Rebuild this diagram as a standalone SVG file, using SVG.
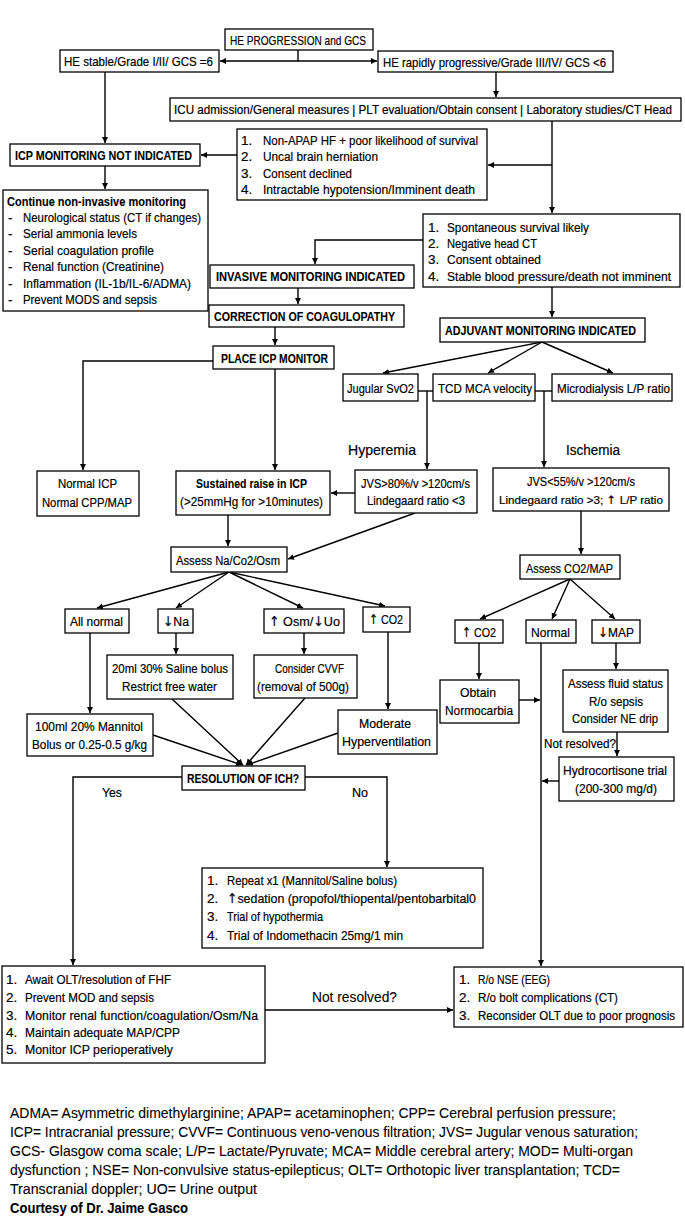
<svg xmlns="http://www.w3.org/2000/svg" width="685" height="1219" viewBox="0 0 685 1219">
<style>
text{font-family:"Liberation Sans","DejaVu Sans",sans-serif;font-size:13.5px;fill:#000;stroke:#000;stroke-width:0.2}
.b{font-weight:bold;font-size:12.5px;stroke-width:0.1}
.f{font-size:14px;stroke-width:0.1}
.h{font-size:15px}
.s{font-size:12px}
.t{font-size:12.5px}
.u{font-size:12px}
.v{font-size:11.5px}
.ar{font-family:"DejaVu Sans",sans-serif;fill:#000}
rect{fill:#fff;stroke:#000;stroke-width:1.3}
#connectors path{fill:none;stroke:#000;stroke-width:1.4}
</style>
<defs>
<marker id="ah" markerUnits="userSpaceOnUse" markerWidth="7" markerHeight="7" refX="6" refY="3" orient="auto">
<path d="M0,0 L6,3 L0,6 z" fill="#000"/>
</marker>
</defs>
<rect x="0" y="0" width="685" height="1219" style="fill:#fff;stroke:none"/>

<g id="connectors">
<path d="M298,50 V61 H220" marker-end="url(#ah)"/>
<path d="M298,61 H377" marker-end="url(#ah)"/>
<path d="M496,72 V97" marker-end="url(#ah)"/>
<path d="M105,72 V143" marker-end="url(#ah)"/>
<path d="M552,121 V213" marker-end="url(#ah)"/>
<path d="M552,165 H488" marker-end="url(#ah)"/>
<path d="M237,155 H201" marker-end="url(#ah)"/>
<path d="M105,166 V189" marker-end="url(#ah)"/>
<path d="M423,240 H315 V264" marker-end="url(#ah)"/>
<path d="M298,288 V304" marker-end="url(#ah)"/>
<path d="M275,327 V345" marker-end="url(#ah)"/>
<path d="M552,287 V317" marker-end="url(#ah)"/>
<path d="M542,342 L383,373" marker-end="url(#ah)"/>
<path d="M542,342 L488,373" marker-end="url(#ah)"/>
<path d="M542,342 L613,373" marker-end="url(#ah)"/>
<path d="M418,391 H433"/>
<path d="M427,391 V469" marker-end="url(#ah)"/>
<path d="M535,391 H552"/>
<path d="M544,391 V467" marker-end="url(#ah)"/>
<path d="M213,361 H83 V470" marker-end="url(#ah)"/>
<path d="M275,369 V470" marker-end="url(#ah)"/>
<path d="M355,493 H331" marker-end="url(#ah)"/>
<path d="M415,513 L288,559" marker-end="url(#ah)"/>
<path d="M228,515 V546" marker-end="url(#ah)"/>
<path d="M581,511 V554" marker-end="url(#ah)"/>
<path d="M229,572 L97,608" marker-end="url(#ah)"/>
<path d="M229,572 L176,608" marker-end="url(#ah)"/>
<path d="M229,572 L303,608" marker-end="url(#ah)"/>
<path d="M229,572 L385,606" marker-end="url(#ah)"/>
<path d="M570,579 L480,619" marker-end="url(#ah)"/>
<path d="M570,579 L552,619" marker-end="url(#ah)"/>
<path d="M570,579 L615,619" marker-end="url(#ah)"/>
<path d="M90,633 V713" marker-end="url(#ah)"/>
<path d="M176,633 V654" marker-end="url(#ah)"/>
<path d="M304,633 V654" marker-end="url(#ah)"/>
<path d="M388,632 V709" marker-end="url(#ah)"/>
<path d="M153,735 L242,765" marker-end="url(#ah)"/>
<path d="M172,699 L243,765" marker-end="url(#ah)"/>
<path d="M305,698 L246,765" marker-end="url(#ah)"/>
<path d="M338,733 L247,765" marker-end="url(#ah)"/>
<path d="M182,777 H73 V965" marker-end="url(#ah)"/>
<path d="M305,777 H387 V867" marker-end="url(#ah)"/>
<path d="M479,643 V679" marker-end="url(#ah)"/>
<path d="M519,700 H540" marker-end="url(#ah)"/>
<path d="M541,643 V966" marker-end="url(#ah)"/>
<path d="M616,643 V669" marker-end="url(#ah)"/>
<path d="M617,732 V756" marker-end="url(#ah)"/>
<path d="M559,781 H542" marker-end="url(#ah)"/>
<path d="M265,1010 H453" marker-end="url(#ah)"/>
</g>

<g id="n_prog"><rect x="225" y="29" width="148" height="21"/><text x="230" y="44.5" textLength="136" lengthAdjust="spacingAndGlyphs">HE PROGRESSION and GCS</text></g>
<g id="n_stable"><rect x="60" y="50" width="159" height="22"/><text x="64" y="65.5" textLength="149" lengthAdjust="spacingAndGlyphs">HE stable/Grade I/II/ GCS =6</text></g>
<g id="n_rapid"><rect x="378" y="51" width="235" height="21"/><text x="383" y="66.5" textLength="223" lengthAdjust="spacingAndGlyphs">HE rapidly progressive/Grade III/IV/ GCS &lt;6</text></g>
<g id="n_icu"><rect x="170" y="98" width="511" height="23"/><text class="u" x="174" y="114" textLength="498" lengthAdjust="spacingAndGlyphs">ICU admission/General measures | PLT evaluation/Obtain consent | Laboratory studies/CT Head</text></g>
<g id="n_list1"><rect x="237" y="129" width="250" height="71"/>
<text x="241" y="144.5">1.</text><text x="263" y="144.5" textLength="215" lengthAdjust="spacingAndGlyphs">Non-APAP HF + poor likelihood of survival</text>
<text x="241" y="161">2.</text><text x="263" y="161" textLength="115" lengthAdjust="spacingAndGlyphs">Uncal brain herniation</text>
<text x="241" y="177.5">3.</text><text x="263" y="177.5" textLength="89" lengthAdjust="spacingAndGlyphs">Consent declined</text>
<text x="241" y="194">4.</text><text x="263" y="194" textLength="212" lengthAdjust="spacingAndGlyphs">Intractable hypotension/Imminent death</text></g>
<g id="n_icpno"><rect x="10" y="144" width="190" height="22"/><text class="b" x="15" y="159.5" textLength="177" lengthAdjust="spacingAndGlyphs">ICP MONITORING NOT INDICATED</text></g>
<g id="n_cont"><rect x="3" y="190" width="205" height="121"/>
<text class="b" x="7" y="205.5" textLength="179" lengthAdjust="spacingAndGlyphs">Continue non-invasive monitoring</text>
<text x="8" y="221.5">-</text><text x="23" y="221.5" textLength="178" lengthAdjust="spacingAndGlyphs">Neurological status (CT if changes)</text>
<text x="8" y="237.5">-</text><text x="23" y="237.5" textLength="114" lengthAdjust="spacingAndGlyphs">Serial ammonia levels</text>
<text x="8" y="254.5">-</text><text x="23" y="254.5" textLength="131" lengthAdjust="spacingAndGlyphs">Serial coagulation profile</text>
<text x="8" y="271">-</text><text x="23" y="271" textLength="141" lengthAdjust="spacingAndGlyphs">Renal function (Creatinine)</text>
<text x="8" y="287.5">-</text><text x="23" y="287.5" textLength="168" lengthAdjust="spacingAndGlyphs">Inflammation (IL-1b/IL-6/ADMA)</text>
<text x="8" y="303.5">-</text><text x="23" y="303.5" textLength="134" lengthAdjust="spacingAndGlyphs">Prevent MODS and sepsis</text></g>
<g id="n_list2"><rect x="423" y="214" width="257" height="73"/>
<text x="428" y="231.5">1.</text><text x="447" y="231.5" textLength="142" lengthAdjust="spacingAndGlyphs">Spontaneous survival likely</text>
<text x="428" y="247.5">2.</text><text x="447" y="247.5" textLength="90" lengthAdjust="spacingAndGlyphs">Negative head CT</text>
<text x="428" y="264">3.</text><text x="447" y="264" textLength="94" lengthAdjust="spacingAndGlyphs">Consent obtained</text>
<text x="428" y="280.5">4.</text><text class="t" x="447" y="280.5" textLength="224" lengthAdjust="spacingAndGlyphs">Stable blood pressure/death not imminent</text></g>
<g id="n_inv"><rect x="210" y="265" width="204" height="23"/><text class="b" x="216" y="281" textLength="189" lengthAdjust="spacingAndGlyphs">INVASIVE MONITORING INDICATED</text></g>
<g id="n_corr"><rect x="209" y="305" width="195" height="22"/><text class="b" x="214" y="321" textLength="181" lengthAdjust="spacingAndGlyphs">CORRECTION  OF COAGULOPATHY</text></g>
<g id="n_place"><rect x="213" y="346" width="121" height="23"/><text class="b" x="221" y="362.5" textLength="107" lengthAdjust="spacingAndGlyphs">PLACE ICP MONITOR</text></g>
<g id="n_adj"><rect x="440" y="318" width="205" height="24"/><text class="b" x="445" y="335" textLength="191" lengthAdjust="spacingAndGlyphs">ADJUVANT MONITORING INDICATED</text></g>
<g id="n_jug"><rect x="343" y="374" width="75" height="27"/><text x="347" y="392.5" textLength="67" lengthAdjust="spacingAndGlyphs">Jugular SvO2</text></g>
<g id="n_tcd"><rect x="433" y="374" width="102" height="27"/><text x="438" y="392.5" textLength="94" lengthAdjust="spacingAndGlyphs">TCD MCA velocity</text></g>
<g id="n_micro"><rect x="552" y="374" width="120" height="27"/><text class="t" x="557" y="392.5" textLength="113" lengthAdjust="spacingAndGlyphs">Microdialysis L/P ratio</text></g>
<g id="l_hyper"><text class="h" x="348" y="455" textLength="68" lengthAdjust="spacingAndGlyphs">Hyperemia</text></g>
<g id="l_isch"><text class="h" x="566" y="455" textLength="54" lengthAdjust="spacingAndGlyphs">Ischemia</text></g>
<g id="n_jvs80"><rect x="355" y="470" width="122" height="43"/>
<text x="361" y="487.5" textLength="109" lengthAdjust="spacingAndGlyphs">JVS&gt;80%/v &gt;120cm/s</text>
<text x="367" y="504.5" textLength="98" lengthAdjust="spacingAndGlyphs">Lindegaard ratio &lt;3</text></g>
<g id="n_jvs55"><rect x="493" y="468" width="176" height="43"/>
<text x="527" y="485.5" textLength="108" lengthAdjust="spacingAndGlyphs">JVS&lt;55%/v &gt;120cm/s</text>
<text class="v" x="499" y="503.5" textLength="164" lengthAdjust="spacingAndGlyphs">Lindegaard ratio &gt;3;  <tspan class="ar">↑</tspan> L/P ratio</text></g>
<g id="n_normicp"><rect x="37" y="471" width="102" height="45"/>
<text x="58" y="487.5" textLength="59" lengthAdjust="spacingAndGlyphs">Normal ICP</text>
<text x="42" y="506.5" textLength="90" lengthAdjust="spacingAndGlyphs">Normal CPP/MAP</text></g>
<g id="n_sust"><rect x="176" y="471" width="154" height="44"/>
<text class="b" x="196" y="487.5" textLength="111" lengthAdjust="spacingAndGlyphs">Sustained raise in ICP</text>
<text x="180" y="506" textLength="143" lengthAdjust="spacingAndGlyphs">(&gt;25mmHg  for &gt;10minutes)</text></g>
<g id="n_assessna"><rect x="171" y="547" width="116" height="25"/><text x="176" y="564.5" textLength="104" lengthAdjust="spacingAndGlyphs">Assess Na/Co2/Osm</text></g>
<g id="n_assessco2"><rect x="520" y="555" width="100" height="24"/><text x="526" y="572.5" textLength="87" lengthAdjust="spacingAndGlyphs">Assess CO2/MAP</text></g>
<g id="n_allnorm"><rect x="65" y="609" width="64" height="24"/><text x="70" y="626" textLength="53" lengthAdjust="spacingAndGlyphs">All normal</text></g>
<g id="n_na"><rect x="158" y="609" width="35" height="24"/><text x="163" y="626" textLength="26" lengthAdjust="spacingAndGlyphs"><tspan class="ar">↓</tspan>Na</text></g>
<g id="n_osm"><rect x="264" y="609" width="80" height="24"/><text x="269" y="626" textLength="71" lengthAdjust="spacingAndGlyphs"><tspan class="ar">↑</tspan> Osm/<tspan class="ar">↓</tspan>Uo</text></g>
<g id="n_co2a"><rect x="363" y="607" width="47" height="25"/><text x="369" y="624" textLength="34" lengthAdjust="spacingAndGlyphs"><tspan class="ar">↑</tspan> CO2</text></g>
<g id="n_co2b"><rect x="455" y="620" width="48" height="23"/><text x="462" y="636.5" textLength="34" lengthAdjust="spacingAndGlyphs"><tspan class="ar">↑</tspan> CO2</text></g>
<g id="n_normal"><rect x="526" y="620" width="50" height="23"/><text x="531" y="636.5" textLength="39" lengthAdjust="spacingAndGlyphs">Normal</text></g>
<g id="n_map"><rect x="592" y="620" width="48" height="23"/><text x="598" y="636.5" textLength="36" lengthAdjust="spacingAndGlyphs"><tspan class="ar">↓</tspan>MAP</text></g>
<g id="n_saline"><rect x="107" y="655" width="126" height="44"/>
<text x="112" y="672.5" textLength="116" lengthAdjust="spacingAndGlyphs">20ml  30% Saline bolus</text>
<text x="122" y="690.5" textLength="95" lengthAdjust="spacingAndGlyphs">Restrict free water</text></g>
<g id="n_cvvf"><rect x="254" y="655" width="103" height="43"/>
<text x="275" y="672.5" textLength="69" lengthAdjust="spacingAndGlyphs">Consider CVVF</text>
<text x="257" y="690.5" textLength="92" lengthAdjust="spacingAndGlyphs">(removal of 500g)</text></g>
<g id="n_mann"><rect x="27" y="714" width="126" height="42"/>
<text x="35" y="730.5" textLength="108" lengthAdjust="spacingAndGlyphs">100ml  20% Mannitol</text>
<text x="32" y="748.5" textLength="115" lengthAdjust="spacingAndGlyphs">Bolus or 0.25-0.5  g/kg</text></g>
<g id="n_hyperv"><rect x="338" y="710" width="99" height="44"/>
<text x="359" y="727.5" textLength="52" lengthAdjust="spacingAndGlyphs">Moderate</text>
<text x="342" y="745.5" textLength="89" lengthAdjust="spacingAndGlyphs">Hyperventilation</text></g>
<g id="n_res"><rect x="182" y="766" width="123" height="24"/><text class="b" x="187" y="782.5" textLength="112" lengthAdjust="spacingAndGlyphs">RESOLUTION OF ICH?</text></g>
<g id="l_yes"><text x="102" y="796.5" textLength="20" lengthAdjust="spacingAndGlyphs">Yes</text></g>
<g id="l_no"><text x="352" y="796.5" textLength="16" lengthAdjust="spacingAndGlyphs">No</text></g>
<g id="n_normo"><rect x="440" y="680" width="79" height="43"/>
<text x="460" y="696.5" textLength="36" lengthAdjust="spacingAndGlyphs">Obtain</text>
<text x="445" y="714.5" textLength="68" lengthAdjust="spacingAndGlyphs">Normocarbia</text></g>
<g id="n_fluid"><rect x="563" y="670" width="105" height="62"/>
<text x="568" y="687.5" textLength="95" lengthAdjust="spacingAndGlyphs">Assess fluid status</text>
<text x="589" y="705.5" textLength="54" lengthAdjust="spacingAndGlyphs">R/o sepsis</text>
<text x="572" y="722.5" textLength="86" lengthAdjust="spacingAndGlyphs">Consider NE drip</text></g>
<g id="l_notres1"><text class="s" x="544" y="748" textLength="72" lengthAdjust="spacingAndGlyphs">Not resolved?</text></g>
<g id="n_hydro"><rect x="559" y="757" width="115" height="44"/>
<text x="563" y="774.5" textLength="104" lengthAdjust="spacingAndGlyphs">Hydrocortisone trial</text>
<text x="575" y="792.5" textLength="82" lengthAdjust="spacingAndGlyphs">(200-300  mg/d)</text></g>
<g id="n_repeat"><rect x="202" y="868" width="281" height="80"/>
<text x="207" y="884.5">1.</text><text x="227" y="884.5" textLength="170" lengthAdjust="spacingAndGlyphs">Repeat x1 (Mannitol/Saline bolus)</text>
<text x="207" y="902.5">2.</text><text x="227" y="902.5" textLength="249" lengthAdjust="spacingAndGlyphs"><tspan class="ar">↑</tspan>sedation (propofol/thiopental/pentobarbital0</text>
<text x="207" y="921">3.</text><text x="227" y="921" textLength="96" lengthAdjust="spacingAndGlyphs">Trial of hypothermia</text>
<text x="207" y="939.5">4.</text><text x="227" y="939.5" textLength="176" lengthAdjust="spacingAndGlyphs">Trial of Indomethacin 25mg/1 min</text></g>
<g id="n_finleft"><rect x="2" y="966" width="263" height="97"/>
<text x="6" y="983.5">1.</text><text x="25" y="983.5" textLength="146" lengthAdjust="spacingAndGlyphs">Await OLT/resolution of FHF</text>
<text x="6" y="1001.5">2.</text><text x="25" y="1001.5" textLength="129" lengthAdjust="spacingAndGlyphs">Prevent MOD and sepsis</text>
<text x="6" y="1019.5">3.</text><text x="25" y="1019.5" textLength="233" lengthAdjust="spacingAndGlyphs">Monitor renal function/coagulation/Osm/Na</text>
<text x="6" y="1036.5">4.</text><text x="25" y="1036.5" textLength="155" lengthAdjust="spacingAndGlyphs">Maintain adequate MAP/CPP</text>
<text x="6" y="1053.5">5.</text><text x="25" y="1053.5" textLength="148" lengthAdjust="spacingAndGlyphs">Monitor ICP perioperatively</text></g>
<g id="l_notres2"><text class="f" x="312" y="1002" textLength="85" lengthAdjust="spacingAndGlyphs">Not resolved?</text></g>
<g id="n_finright"><rect x="454" y="967" width="229" height="60"/>
<text x="459" y="983.5">1.</text><text x="478" y="983.5" textLength="72" lengthAdjust="spacingAndGlyphs">R/o NSE (EEG)</text>
<text x="459" y="1001.5">2.</text><text x="478" y="1001.5" textLength="140" lengthAdjust="spacingAndGlyphs">R/o bolt complications (CT)</text>
<text x="459" y="1019.5">3.</text><text class="u" x="478" y="1019.5" textLength="197" lengthAdjust="spacingAndGlyphs">Reconsider OLT due to poor prognosis</text></g>

<g id="footnote">
<text class="f" x="10" y="1118" textLength="606" lengthAdjust="spacingAndGlyphs">ADMA= Asymmetric dimethylarginine; APAP= acetaminophen; CPP= Cerebral perfusion pressure;</text>
<text class="f" x="10" y="1137" textLength="628" lengthAdjust="spacingAndGlyphs">ICP= Intracranial pressure; CVVF= Continuous veno-venous filtration; JVS= Jugular venous saturation;</text>
<text class="f" x="10" y="1156" textLength="623" lengthAdjust="spacingAndGlyphs">GCS- Glasgow coma scale; L/P= Lactate/Pyruvate; MCA= Middle cerebral artery;  MOD= Multi-organ</text>
<text class="f" x="10" y="1175" textLength="610" lengthAdjust="spacingAndGlyphs">dysfunction ; NSE= Non-convulsive status-epilepticus; OLT= Orthotopic liver transplantation; TCD=</text>
<text class="f" x="10" y="1194" textLength="247" lengthAdjust="spacingAndGlyphs">Transcranial doppler; UO= Urine output</text>
<text class="f" x="10" y="1213" textLength="178" lengthAdjust="spacingAndGlyphs" font-weight="bold">Courtesy of Dr. Jaime Gasco</text>
</g>
</svg>
